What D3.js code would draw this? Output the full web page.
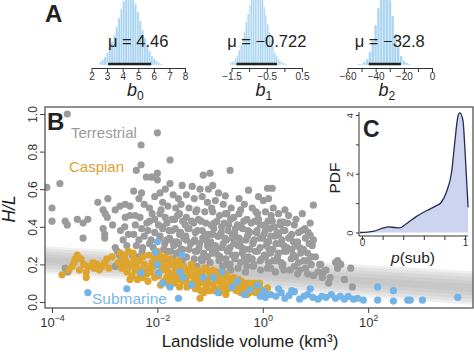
<!DOCTYPE html>
<html><head><meta charset="utf-8">
<script src="https://cdn.jsdelivr.net/npm/d3@7"></script>
<style>body{margin:0;background:#fff}svg{display:block;font-family:"Liberation Sans",Arial,Helvetica,sans-serif}</style>
</head><body><svg id="c" width="474" height="356"></svg>
<script>
// ---------- Panel A: posterior histograms ----------
const b0Start = 2.5, b0Bin = 0.15;
const b0Counts = [3,5,8,12,17,23,30,38,47,56,64,70,73,72,68,61,53,44,35,27,20,14,9,6,4,2,1];
const b1Start = -1.55, b1Bin = 0.05;
const b1Counts = [2,3,4,7,10,15,20,27,34,43,51,60,67,73,77,78,76,72,66,58,50,41,33,25,19,13,9,6,4,3,2,1];
const b2Start = -53, b2Bin = 2;
const b2Counts = [1,1,3,6,13,24,40,57,72,80,77,65,49,31,18,9,4,2,1];
const ciLow = [3.07, -1.36, -45.0];
const ciHigh = [5.83, -0.21, -22.1];
const muLabels = ["μ = 4.46", "μ = −0.722", "μ = −32.8"];
const b0Ticks = [2,3,4,5,6,7,8], b0TickLabels = ["2","3","4","5","6","7","8"];
const b1Ticks = [-1.5,-1,-0.5,0,0.5], b1TickLabels = ["−1.5","","−0.5","","0.5"];
const b2Ticks = [-60,-50,-40,-30,-20,-10,0], b2TickLabels = ["−60","","−40","","−20","","0"];
const paramSubs = ["0","1","2"];

// ---------- Panel B: scatter (log10 volume km^3, H/L) ----------
const terrestrial = [
[-3.71,1.00],[-4.10,0.61],[-3.85,0.63],[-4.00,0.50],[-4.00,0.43],[-3.75,0.43],[-3.71,0.41],[-3.52,0.44],[-3.41,0.42],[-3.32,0.44],[-3.41,0.34],[-3.70,0.16],[-3.75,0.18],
[-3.13,0.53],[-2.94,0.55],[-3.03,0.49],[-2.99,0.47],[-2.95,0.45],[-3.03,0.39],[-3.00,0.36],[-3.00,0.34],[-2.80,0.49],[-2.71,0.51],[-2.61,0.52],[-2.52,0.51],[-2.61,0.45],[-2.52,0.46],[-2.80,0.29],[-2.76,0.27],[-2.72,0.25],[-2.80,0.19],[-2.85,0.41],[-2.70,0.38],[-2.62,0.40],[-2.55,0.36],[-2.65,0.33],[-2.58,0.30],[-2.68,0.22],
[-2.31,0.835],[-2.31,0.73],[-2.40,0.70],[-2.21,0.665],[-2.12,0.665],[-2.42,0.46],[-2.33,0.45],[-2.48,0.25],[-2.36,0.24],[-2.29,0.27],[-2.45,0.59],[-2.30,0.58],[-2.35,0.55],[-2.25,0.52],[-2.42,0.41],[-2.30,0.39],[-2.20,0.42],[-2.45,0.36],[-2.35,0.33],[-2.25,0.35],[-2.15,0.31],[-2.40,0.30],[-2.28,0.29],[-2.10,0.47],[-2.05,0.44],[-2.15,0.50],[-2.05,0.56],[-2.18,0.38],
[-2.00,0.90],[-1.76,0.755],[-2.00,0.685],[-2.10,0.665],[-2.00,0.65],[-1.76,0.63],[-1.53,0.62],[-1.95,0.58],[-1.85,0.60],[-1.70,0.57],[-1.60,0.55],[-1.90,0.53],[-1.80,0.51],[-1.65,0.50],[-1.55,0.52],[-1.95,0.47],[-1.85,0.45],[-1.72,0.44],[-1.62,0.46],[-1.52,0.43],[-1.90,0.40],[-1.78,0.38],[-1.66,0.39],[-1.56,0.37],[-1.95,0.34],[-1.82,0.33],[-1.70,0.32],[-1.60,0.31],[-1.50,0.34],[-1.88,0.28],[-1.75,0.27],[-1.62,0.26],[-1.52,0.28],[-1.80,0.22],[-1.65,0.21],
[-1.34,0.615],[-1.19,0.60],[-1.03,0.60],[-1.13,0.675],[-1.00,0.685],[-1.45,0.57],[-1.30,0.55],[-1.15,0.56],[-1.05,0.53],[-1.40,0.50],[-1.25,0.49],[-1.10,0.48],[-1.45,0.45],[-1.35,0.43],[-1.22,0.44],[-1.08,0.42],[-1.40,0.39],[-1.28,0.37],[-1.15,0.38],[-1.02,0.36],[-1.45,0.33],[-1.32,0.32],[-1.20,0.31],[-1.08,0.33],[-1.40,0.28],[-1.25,0.27],[-1.12,0.26],[-1.02,0.29],[-1.30,0.23],[-1.15,0.22],[-1.05,0.24],
[-0.84,0.58],[-0.71,0.565],[-0.62,0.70],[-0.95,0.62],[-0.90,0.54],[-0.75,0.52],[-0.60,0.50],[-0.95,0.48],[-0.82,0.46],[-0.68,0.47],[-0.55,0.45],[-0.92,0.42],[-0.78,0.40],[-0.65,0.41],[-0.52,0.39],[-0.95,0.36],[-0.85,0.35],[-0.72,0.34],[-0.58,0.36],[-0.90,0.30],[-0.78,0.29],[-0.65,0.28],[-0.55,0.31],[-0.85,0.25],[-0.70,0.23],[-0.58,0.25],[-0.62,0.20],
[-0.27,0.595],[-0.45,0.55],[-0.35,0.52],[-0.20,0.50],[-0.10,0.47],[-0.45,0.47],[-0.30,0.44],[-0.15,0.43],[-0.05,0.41],[-0.42,0.40],[-0.28,0.38],[-0.12,0.37],[-0.45,0.34],[-0.32,0.33],[-0.18,0.32],[-0.05,0.34],[-0.40,0.29],[-0.25,0.28],[-0.10,0.27],[-0.35,0.24],[-0.20,0.23],[-0.05,0.22],[-0.30,0.19],
[0.09,0.605],[0.18,0.605],[-0.08,0.56],[0.01,0.54],[0.11,0.55],[0.33,0.425],[0.39,0.425],[0.49,0.46],[0.05,0.48],[0.20,0.50],[0.30,0.47],[0.10,0.43],[0.22,0.40],[0.05,0.38],[0.15,0.35],[0.30,0.36],[0.42,0.38],[0.08,0.32],[0.25,0.31],[0.40,0.30],[0.12,0.28],[0.30,0.26],[0.45,0.27],[0.05,0.24],[0.20,0.22],[0.35,0.21],[0.15,0.18],[0.40,0.17],
[0.75,0.47],[0.68,0.37],[0.90,0.42],[0.90,0.355],[0.52,0.345],[0.58,0.32],[0.96,0.33],[0.94,0.30],[0.96,0.515],[0.60,0.41],[0.80,0.39],[0.55,0.28],[0.70,0.29],[0.85,0.26],[0.62,0.24],[0.78,0.22],[0.92,0.20],[0.96,0.14],[0.70,0.17],[0.85,0.15],[0.60,0.19],
[1.00,0.24],[1.42,0.22],[1.44,0.21],[1.67,0.18],[1.28,0.13],[1.13,0.13],[1.70,0.08],[1.38,0.21],[1.48,0.20],[1.42,0.18],[1.10,0.20],[1.20,0.17],[1.55,0.12],[1.25,0.10],[1.05,0.16],
[-2.15,0.43],[-1.98,0.41],[-1.82,0.42],[-1.67,0.44],[-1.47,0.41],[-1.31,0.42],[-1.17,0.43],[-0.98,0.41],[-0.87,0.43],[-0.73,0.42],[-0.61,0.44],[-0.48,0.41],[-0.36,0.43],[-0.22,0.42],[-0.08,0.44],[0.04,0.41],[0.18,0.43],[0.34,0.41],[0.47,0.42],[0.63,0.44],
[-2.05,0.37],[-1.90,0.39],[-1.72,0.38],[-1.58,0.36],[-1.42,0.39],[-1.24,0.38],[-1.09,0.36],[-0.93,0.39],[-0.79,0.37],[-0.66,0.38],[-0.53,0.36],[-0.38,0.39],[-0.25,0.37],[-0.11,0.38],[0.02,0.36],[0.13,0.39],[0.27,0.37],[0.39,0.38],[0.55,0.36],[0.74,0.38],[0.86,0.37],
[-2.12,0.33],[-1.95,0.35],[-1.77,0.34],[-1.63,0.32],[-1.46,0.35],[-1.29,0.33],[-1.14,0.34],[-0.99,0.32],[-0.84,0.35],[-0.69,0.33],[-0.57,0.34],[-0.43,0.32],[-0.29,0.35],[-0.16,0.33],[0.00,0.34],[0.11,0.32],[0.23,0.35],[0.36,0.33],[0.49,0.34],[0.66,0.32],[0.81,0.34],
[-2.08,0.29],[-1.86,0.31],[-1.69,0.30],[-1.55,0.28],[-1.37,0.31],[-1.21,0.29],[-1.05,0.30],[-0.89,0.28],[-0.75,0.31],[-0.62,0.29],[-0.47,0.30],[-0.33,0.28],[-0.19,0.31],[-0.05,0.29],[0.07,0.30],[0.19,0.28],[0.33,0.31],[0.46,0.29],[0.62,0.30],[0.77,0.28],[0.88,0.31],
[-2.02,0.25],[-1.81,0.27],[-1.64,0.26],[-1.45,0.24],[-1.28,0.27],[-1.12,0.25],[-0.96,0.26],[-0.81,0.24],[-0.67,0.27],[-0.51,0.25],[-0.39,0.26],[-0.27,0.24],[-0.14,0.27],[0.03,0.25],[0.15,0.26],[0.28,0.24],[0.41,0.27],[0.58,0.25],[0.72,0.26],[0.92,0.24],
[-1.92,0.21],[-1.71,0.23],[-1.53,0.22],[-1.34,0.20],[-1.17,0.23],[-1.00,0.21],[-0.83,0.22],[-0.69,0.20],[-0.53,0.23],[-0.42,0.21],[-0.31,0.22],[-0.17,0.20],[-0.02,0.23],[0.11,0.21],[0.26,0.22],[0.38,0.20],[0.54,0.23],[0.68,0.21],[0.86,0.22],[1.08,0.20],
[-1.45,0.17],[-1.25,0.19],[-1.08,0.18],[-0.92,0.16],[-0.76,0.19],[-0.61,0.17],[-0.47,0.18],[-0.33,0.16],[-0.18,0.19],[-0.04,0.17],[0.09,0.18],[0.24,0.16],[0.37,0.19],[0.52,0.17],[0.66,0.15],[0.81,0.18],[1.15,0.16],
[-1.93,0.49],[-1.58,0.47],[-1.27,0.48],[-0.97,0.50],[-0.71,0.47],[-0.42,0.49],[-0.13,0.48],[0.16,0.46],[0.42,0.49]
];
const caspian = [
[-3.81,0.145],[-3.52,0.25],[-3.45,0.23],[-3.58,0.21],[-3.40,0.20],[-3.30,0.19],[-3.22,0.21],[-3.15,0.20],[-3.05,0.19],[-3.10,0.17],[-3.48,0.17],[-3.35,0.16],[-3.35,0.13],[-3.62,0.19],[-3.00,0.21],[-2.92,0.18],
[-2.70,0.26],[-2.65,0.24],[-2.60,0.22],[-2.55,0.27],[-2.50,0.20],[-2.45,0.23],[-2.40,0.19],[-2.35,0.22],[-2.30,0.17],[-2.25,0.20],[-2.20,0.15],[-2.15,0.18],[-2.10,0.21],[-2.05,0.13],[-2.68,0.18],[-2.58,0.16],[-2.48,0.14],[-2.38,0.12],[-2.28,0.13],[-2.18,0.11],[-2.62,0.20],[-2.42,0.17],[-2.33,0.15],[-2.12,0.16],[-2.52,0.12],
[-2.00,0.27],[-1.95,0.22],[-1.90,0.19],[-1.85,0.24],[-1.80,0.16],[-1.75,0.20],[-1.70,0.13],[-1.65,0.18],[-1.60,0.22],[-1.55,0.15],[-1.50,0.19],[-1.45,0.11],[-1.40,0.16],[-1.35,0.20],[-1.30,0.13],[-1.25,0.17],[-1.20,0.10],[-1.15,0.14],[-1.10,0.18],[-1.05,0.12],[-1.00,0.15],[-1.98,0.14],[-1.88,0.11],[-1.78,0.09],[-1.68,0.10],[-1.58,0.08],[-1.48,0.13],[-1.38,0.09],[-1.28,0.07],[-1.18,0.06],[-1.08,0.08],[-1.92,0.17],[-1.72,0.15],[-1.52,0.11],[-1.32,0.10],[-1.19,0.02],[-1.62,0.12],[-1.42,0.14],[-1.22,0.12],[-1.82,0.13],
[-0.95,0.17],[-0.90,0.11],[-0.85,0.14],[-0.80,0.08],[-0.75,0.12],[-0.70,0.15],[-0.65,0.07],[-0.60,0.10],[-0.55,0.13],[-0.50,0.06],[-0.45,0.09],[-0.40,0.11],[-0.35,0.07],[-0.30,0.10],[-0.25,0.05],[-0.20,0.08],[-0.15,0.10],[-0.10,0.06],[-0.08,0.08],[0.09,0.075],[-0.92,0.06],[-0.82,0.05],[-0.72,0.09],[-0.62,0.12],[-0.52,0.09],[-0.42,0.05],[-0.88,0.16],[-0.78,0.10],
[-2.62,0.25],[-2.46,0.26],[-2.28,0.24],[-2.16,0.25],[-2.06,0.23],[-1.96,0.25],[-1.86,0.20],[-1.76,0.23],[-1.66,0.21],[-1.56,0.19],[-1.46,0.17],[-1.36,0.18],[-1.26,0.15],[-1.16,0.16],[-1.06,0.17],[-0.96,0.14],[-0.86,0.12],[-0.76,0.14],[-0.66,0.13],[-0.56,0.11],[-0.46,0.12],[-0.36,0.09],[-0.26,0.08],[-0.16,0.07],[-0.06,0.10],[0.04,0.05],
[-2.56,0.18],[-2.44,0.21],[-2.24,0.16],[-2.08,0.19],[-1.94,0.09],[-1.84,0.18],[-1.74,0.11],[-1.64,0.14],[-1.54,0.17],[-1.44,0.08],[-1.34,0.14],[-1.24,0.09],[-1.14,0.11],[-1.04,0.10],[-0.94,0.09],[-0.84,0.07],[-0.74,0.06],[-0.64,0.09],[-0.54,0.07],[-0.44,0.08],[-0.34,0.06],[-0.24,0.10],[-0.14,0.05],[-0.04,0.07],
[-2.74,0.21],[-2.86,0.24],[-3.20,0.18],[-3.56,0.23],[-3.68,0.17],[-2.96,0.23],[-1.12,0.05],[-1.02,0.06],[-0.70,0.04],[-0.30,0.04]
];
const submarine = [
[-3.32,0.05],[-2.58,0.07],[-2.31,0.155],[-2.00,0.32],[-2.04,0.265],[-1.53,0.25],[-2.00,0.20],[-1.98,0.155],[-1.57,0.16],[-1.51,0.13],[-1.76,0.08],[-1.60,0.02],[-1.13,0.13],[-0.94,0.13],[-0.77,0.16],[-0.58,0.08],[-0.48,0.11],[-0.24,0.065],[-0.10,0.09],[-1.90,0.10],[-1.35,0.09],[-0.85,0.05],[-0.35,0.04],
[-0.05,0.03],[0.05,0.025],[0.15,0.04],[0.25,0.03],[0.35,0.05],[0.42,0.02],[0.50,0.035],[0.60,0.055],[0.70,0.015],[0.78,0.03],[0.85,0.04],[0.95,0.025],[1.05,0.015],[1.12,0.03],[1.20,0.025],[1.30,0.04],[1.38,0.02],[1.47,0.03],[1.55,0.015],[1.62,0.03],[1.72,0.015],[1.80,0.02],[1.91,0.01],[2.18,0.08],[2.18,0.01],[2.48,0.06],[2.48,0.005],[2.75,0.01],[2.80,0.01],[3.03,0.01],[3.70,0.025],[0.30,0.07],[0.55,0.06],[0.90,0.07],[0.02,0.06]
];
const xTickExps = [-4,-2,0,2];
const yTicks = [0,0.2,0.4,0.6,0.8,1.0];
// regression credible band (log10 volume ends, centre and nested half-widths)
const bandLogV = [-4.2, 4.1];
const bandMid = [0.225, 0.072];
const bandHalfLeft = [0.015, 0.03, 0.045, 0.06, 0.072];
const bandHalfRight = [0.02, 0.04, 0.058, 0.075, 0.09];

// ---------- Panel C: density of p(sub) ----------
const pSub = [-0.02,0.11,0.21,0.255,0.32,0.37,0.43,0.53,0.63,0.71,0.77,0.82,0.87,0.90,0.93,0.95,0.98,1.00,1.03];
const pdfVals = [0.0,0.04,0.16,0.19,0.17,0.16,0.30,0.55,0.75,0.89,1.03,1.38,2.06,3.04,3.93,4.07,3.82,2.8,0.86];
const cXTicks = [0,0.2,0.4,0.6,0.8,1], cXLabels = ["0","","","","","1"];
const cYTicks = [0,1,2,3,4], cYLabels = ["0","","2","","4"];

// =================== drawing ===================
const svg = d3.select("#c");
const ink = "#222";

// ----- Panel A -----
const panelsA = [
  {counts:b0Counts, start:b0Start, bin:b0Bin, dom:[2,8], rng:[91.5,185], ticks:b0Ticks, tl:b0TickLabels},
  {counts:b1Counts, start:b1Start, bin:b1Bin, dom:[-1.5,0.5], rng:[231.5,302], ticks:b1Ticks, tl:b1TickLabels},
  {counts:b2Counts, start:b2Start, bin:b2Bin, dom:[-60,0], rng:[347.5,432], ticks:b2Ticks, tl:b2TickLabels}
];
const hy = d3.scaleLinear().domain([0,65]).range([65,0]);
panelsA.forEach((p,k)=>{
  const xs = d3.scaleLinear().domain(p.dom).range(p.rng);
  const g = svg.append("g");
  g.selectAll("rect.bar").data(p.counts).join("rect")
    .attr("x",(d,i)=>xs(p.start+i*p.bin))
    .attr("width",(d,i)=>xs(p.start+(i+1)*p.bin)-xs(p.start+i*p.bin))
    .attr("y",d=>hy(d)).attr("height",d=>hy(0)-hy(d))
    .attr("fill","#a9d4f2").attr("stroke","#e8f4fc").attr("stroke-width",0.5);
  g.append("line").attr("x1",xs(ciLow[k])).attr("x2",xs(ciHigh[k]))
    .attr("y1",64).attr("y2",64).attr("stroke","#222").attr("stroke-width",2.6);
  g.append("text").attr("x",(p.rng[0]+p.rng[1])/2).attr("y",47).attr("text-anchor","middle")
    .attr("font-size",16.5).attr("fill",ink).text(muLabels[k]);
  const ax = g.append("g").attr("transform","translate(0,68)")
    .call(d3.axisBottom(xs).tickValues(p.ticks).tickSize(4).tickSizeOuter(0).tickFormat((d,i)=>p.tl[i]));
  ax.select(".domain").attr("stroke","#333");
  ax.selectAll(".tick line").attr("stroke","#333");
  ax.selectAll(".tick text").attr("font-size",10).attr("fill","#333").attr("y",5).attr("dy","0.71em");
  const lab = g.append("text").attr("x",(p.rng[0]+p.rng[1])/2-3).attr("y",96).attr("text-anchor","middle").attr("fill",ink);
  lab.append("tspan").attr("font-size",18).attr("font-style","italic").text("b");
  lab.append("tspan").attr("font-size",12).attr("dy",4).text(paramSubs[k]);
});
svg.append("text").attr("x",45).attr("y",22).attr("font-size",24).attr("font-weight","bold").attr("fill",ink).text("A");

// ----- Panel B -----
const L=45, R=473, T=107, B=308;
const xs = d3.scaleLog().domain([Math.pow(10,-4.133), Math.pow(10,3.99)]).range([L,R]);
const ys = d3.scaleLinear().domain([0,1]).range([302,114]);
svg.append("clipPath").attr("id","clipB").append("rect").attr("x",L).attr("y",T).attr("width",R-L).attr("height",B-T);
const gB = svg.append("g").attr("clip-path","url(#clipB)");
bandHalfLeft.forEach((hl,j)=>{
  const hr = bandHalfRight[j];
  const pts = [{v:bandLogV[0],m:bandMid[0],h:hl},{v:bandLogV[1],m:bandMid[1],h:hr}];
  gB.append("path").datum(pts)
    .attr("d", d3.area().x(d=>xs(Math.pow(10,d.v))).y0(d=>ys(d.m-d.h)).y1(d=>ys(d.m+d.h)))
    .attr("fill","#a8a8a8").attr("fill-opacity",0.19);
});
const dot = (data,col)=> gB.append("g").selectAll("circle").data(data).join("circle")
  .attr("cx",d=>xs(Math.pow(10,d[0]))).attr("cy",d=>ys(d[1])).attr("r",3.6).attr("fill",col);
dot(terrestrial,"#9b9b9b");
dot(caspian,"#dea52e");
dot(submarine,"#72b3e8");

svg.append("rect").attr("x",L).attr("y",T).attr("width",R-L).attr("height",B-T)
  .attr("fill","none").attr("stroke","#555").attr("stroke-width",1.3);

const yAx = svg.append("g").attr("transform",`translate(${L},0)`)
  .call(d3.axisLeft(ys).tickValues(yTicks).tickSize(5).tickSizeOuter(0).tickFormat(d3.format(".1f")));
yAx.select(".domain").remove();
yAx.selectAll(".tick line").attr("stroke","#444");
yAx.selectAll(".tick text").attr("x",null).attr("dy",null).attr("text-anchor","middle")
  .attr("transform","translate(-8,0) rotate(-90)").attr("font-size",12).attr("fill","#333");

const xAx = svg.append("g").attr("transform",`translate(0,${B})`)
  .call(d3.axisBottom(xs).tickValues(xTickExps.map(e=>Math.pow(10,e))).tickSize(5).tickSizeOuter(0).tickFormat(""));
xAx.select(".domain").remove();
xAx.selectAll(".tick line").attr("stroke","#444");
xAx.selectAll(".tick").each(function(d,i){
  const t = d3.select(this).append("text").attr("y",19).attr("text-anchor","middle").attr("fill","#333").attr("font-size",13);
  t.append("tspan").text("10");
  t.append("tspan").attr("font-size",9).attr("dy",-6).text(String(xTickExps[i]).replace("-","−"));
});

svg.append("text").attr("x",250).attr("y",347).attr("text-anchor","middle").attr("font-size",17).attr("fill",ink)
  .text("Landslide volume (km³)");
svg.append("text").attr("transform","translate(15,209) rotate(-90)").attr("text-anchor","middle")
  .attr("font-size",17.5).attr("font-style","italic").attr("fill",ink).text("H/L");

svg.append("text").attr("x",47).attr("y",130).attr("font-size",24).attr("font-weight","bold").attr("fill",ink).text("B");
svg.append("text").attr("x",71).attr("y",138).attr("font-size",15).attr("fill","#9a9a9a").text("Terrestrial");
svg.append("text").attr("x",69).attr("y",172).attr("font-size",15).attr("fill","#dca236").text("Caspian");
svg.append("text").attr("x",92).attr("y",304).attr("font-size",15.5).attr("fill","#7ab6e8").text("Submarine");

// ----- Panel C -----
const cx = d3.scaleLinear().domain([0,1]).range([362,465]);
const cy = d3.scaleLinear().domain([0,4]).range([232.5,115]);
const dens = pSub.map((p,i)=>[p,pdfVals[i]]);
svg.append("path").datum(dens)
  .attr("d", d3.area().x(d=>cx(d[0])).y0(cy(0)).y1(d=>cy(d[1])).curve(d3.curveMonotoneX))
  .attr("fill","#ccd4ef");
svg.append("path").datum(dens)
  .attr("d", d3.line().x(d=>cx(d[0])).y(d=>cy(d[1])).curve(d3.curveMonotoneX))
  .attr("fill","none").attr("stroke","#262b55").attr("stroke-width",1.3);
svg.append("line").attr("x1",359).attr("x2",359).attr("y1",cy(4.1)).attr("y2",236).attr("stroke","#333");
svg.append("line").attr("x1",359).attr("x2",468).attr("y1",236).attr("y2",236).attr("stroke","#333");
const cyAx = svg.append("g").attr("transform","translate(359,0)")
  .call(d3.axisLeft(cy).tickValues(cYTicks).tickSize(3).tickSizeOuter(0).tickFormat((d,i)=>cYLabels[i]));
cyAx.select(".domain").remove();
cyAx.selectAll(".tick line").attr("stroke","#333");
cyAx.selectAll(".tick text").attr("x",null).attr("dy",null).attr("text-anchor","middle")
  .attr("transform","translate(-6,0) rotate(-90)").attr("font-size",9.5).attr("fill","#333");
const cxAx = svg.append("g").attr("transform","translate(0,236)")
  .call(d3.axisBottom(cx).tickValues(cXTicks).tickSize(4).tickSizeOuter(0).tickFormat((d,i)=>cXLabels[i]));
cxAx.select(".domain").remove();
cxAx.selectAll(".tick line").attr("stroke","#333");
cxAx.selectAll(".tick text").attr("y",3).attr("dy","0.71em").attr("font-size",10).attr("fill","#333");
svg.append("text").attr("transform","translate(340,178) rotate(-90)").attr("text-anchor","middle")
  .attr("font-size",15.5).attr("fill",ink).text("PDF");
const ps = svg.append("text").attr("x",413).attr("y",263).attr("text-anchor","middle").attr("font-size",15.5).attr("fill",ink);
ps.append("tspan").attr("font-style","italic").text("p");
ps.append("tspan").text("(sub)");
svg.append("text").attr("x",363).attr("y",137).attr("font-size",23).attr("font-weight","bold").attr("fill",ink).text("C");
</script></body></html>
